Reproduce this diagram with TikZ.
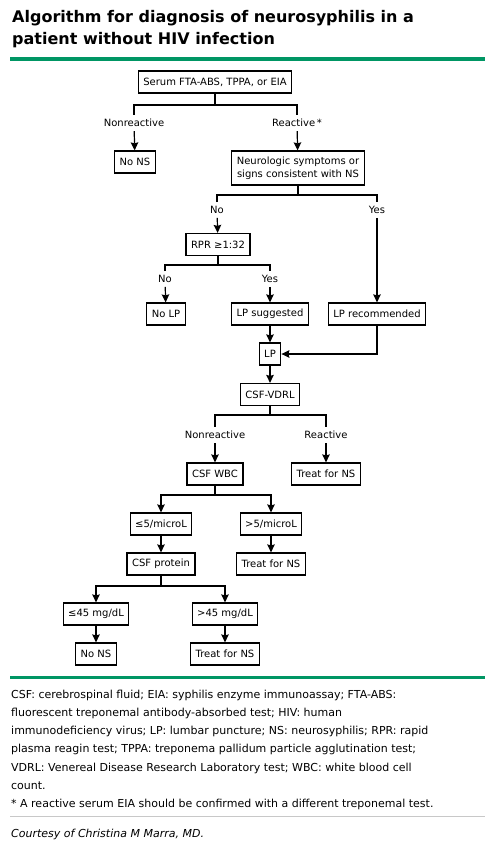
\documentclass[tikz,border=0pt]{standalone}
\usepackage{fontspec}
\setmainfont{DejaVu Sans}
\usepackage{tikz}
\usetikzlibrary{arrows.meta}
\definecolor{mygreen}{RGB}{0,150,100}
\definecolor{mygray}{RGB}{200,200,200}
\definecolor{mydark}{RGB}{0,0,0}
\tikzset{
  box/.style={rectangle, draw=mydark, fill=white, line width=1.2pt,
    inner xsep=5pt, inner ysep=0pt, minimum height=22pt, align=center,
    font=\fontsize{10}{12.5}\selectfont},
  lbl/.style={inner sep=4pt, font=\fontsize{10}{12}\selectfont},
  arrow/.style={-{Stealth[length=8pt, width=7.5pt, inset=1pt]}, line width=1.2pt, color=mydark},
  line/.style={line width=1.2pt, color=mydark},
  foot/.style={anchor=base west, inner sep=0pt, font=\fontsize{11}{13}\selectfont}
}

\begin{document}
\begin{tikzpicture}[x=1pt, y=-1pt]
  \useasboundingbox (0,0) rectangle (485,842);

  % --- Title ---
  \node[anchor=base west, inner sep=0pt, font=\fontsize{16}{20}\bfseries] (title1) at (12,23) {Algorithm for diagnosis of neurosyphilis in a};
  \node[anchor=base west, inner sep=0pt, font=\fontsize{16}{20}\bfseries] (title2) at (12,45) {patient without HIV infection};
  \fill[mygreen] (10,57) rectangle (485,61);

  % --- Serum test ---
  \node[box] (serum) at (215,82) {Serum FTA-ABS, TPPA, or EIA};
  \coordinate (s1) at (215,105);
  \node[lbl] (nonr1) at (134,123) {Nonreactive};
  \node[lbl] (react1) at (297,123) {Reactive\,*};
  \node[box] (nons1) at (135,162) {No NS};
  \node[box, minimum height=34pt] (neuro) at (298,168) {Neurologic symptoms or\\signs consistent with NS};
  \draw[line] (serum) -- (s1);
  \draw[line] (nonr1.north) |- (s1) -| (react1.north);
  \draw[arrow] (nonr1) -- (nons1);
  \draw[arrow] (react1) -- (neuro);

  % --- Symptoms ---
  \coordinate (s2) at (298,195);
  \node[lbl] (no1) at (217,210) {No};
  \node[lbl] (yes1) at (377,210) {Yes};
  \node[box] (rpr) at (218,244.5) {RPR ≥1:32};
  \draw[line] (neuro) -- (s2);
  \draw[line] (no1.north) |- (s2) -| (yes1.north);
  \draw[arrow] (no1) -- (rpr);

  % --- RPR titer ---
  \coordinate (s3) at (218,265);
  \node[lbl] (no2) at (165,279) {No};
  \node[lbl] (yes2) at (270,279) {Yes};
  \node[box] (nolp) at (166,314) {No LP};
  \node[box] (lpsug) at (270,314) {LP suggested};
  \node[box] (lprec) at (377,314) {LP recommended};
  \draw[line] (rpr) -- (s3);
  \draw[line] (no2.north) |- (s3) -| (yes2.north);
  \draw[arrow] (no2) -- (nolp);
  \draw[arrow] (yes2) -- (lpsug);
  \draw[arrow] (yes1) -- (lprec);

  % --- LP ---
  \node[box] (lp) at (270,354) {LP};
  \node[box] (vdrl) at (270,394.5) {CSF-VDRL};
  \draw[arrow] (lpsug) -- (lp);
  \draw[arrow] (lprec.south) |- (lp.east);
  \draw[arrow] (lp) -- (vdrl);

  % --- CSF-VDRL ---
  \coordinate (s4) at (270,415);
  \node[lbl] (nonr2) at (215,435) {Nonreactive};
  \node[lbl] (react2) at (326,435) {Reactive};
  \node[box] (wbc) at (215,474) {CSF WBC};
  \node[box] (treat1) at (326,474) {Treat for NS};
  \draw[line] (vdrl) -- (s4);
  \draw[line] (nonr2.north) |- (s4) -| (react2.north);
  \draw[arrow] (nonr2) -- (wbc);
  \draw[arrow] (react2) -- (treat1);

  % --- CSF WBC ---
  \coordinate (s5) at (215,495);
  \node[box] (low5) at (161,524) {≤5/microL};
  \node[box] (high5) at (271,524) {>5/microL};
  \node[box] (prot) at (161,564) {CSF protein};
  \node[box] (treat2) at (271,564) {Treat for NS};
  \draw[line] (wbc) -- (s5);
  \draw[arrow] (s5) -| (low5.north);
  \draw[arrow] (s5) -| (high5.north);
  \draw[arrow] (low5) -- (prot);
  \draw[arrow] (high5) -- (treat2);

  % --- CSF protein ---
  \coordinate (s6) at (161,586);
  \node[box] (low45) at (96,614) {≤45 mg/dL};
  \node[box] (high45) at (225,614) {>45 mg/dL};
  \node[box] (nons2) at (96,654) {No NS};
  \node[box] (treat3) at (225,654) {Treat for NS};
  \draw[line] (prot) -- (s6);
  \draw[arrow] (s6) -| (low45.north);
  \draw[arrow] (s6) -| (high45.north);
  \draw[arrow] (low45) -- (nons2);
  \draw[arrow] (high45) -- (treat3);

  % --- Footnotes ---
  \fill[mygreen] (10,676) rectangle (485,678.5);
  \node[foot] (f1) at (11,698) {CSF: cerebrospinal fluid; EIA: syphilis enzyme immunoassay; FTA-ABS:};
  \node[foot] (f2) at (11,716.3) {fluorescent treponemal antibody-absorbed test; HIV: human};
  \node[foot] (f3) at (11,734.6) {immunodeficiency virus; LP: lumbar puncture; NS: neurosyphilis; RPR: rapid};
  \node[foot] (f4) at (11,752.9) {plasma reagin test; TPPA: treponema pallidum particle agglutination test;};
  \node[foot] (f5) at (11,771.2) {VDRL: Venereal Disease Research Laboratory test; WBC: white blood cell};
  \node[foot] (f6) at (11,789.5) {count.};
  \node[foot] (f7) at (11,807.8) {* A reactive serum EIA should be confirmed with a different treponemal test.};
  \fill[mygray] (10,815.5) rectangle (485,816.5);
  \node[foot, font=\fontsize{11}{13}\itshape] (court) at (11,837) {Courtesy of Christina M Marra, MD.};
\end{tikzpicture}
\end{document}
